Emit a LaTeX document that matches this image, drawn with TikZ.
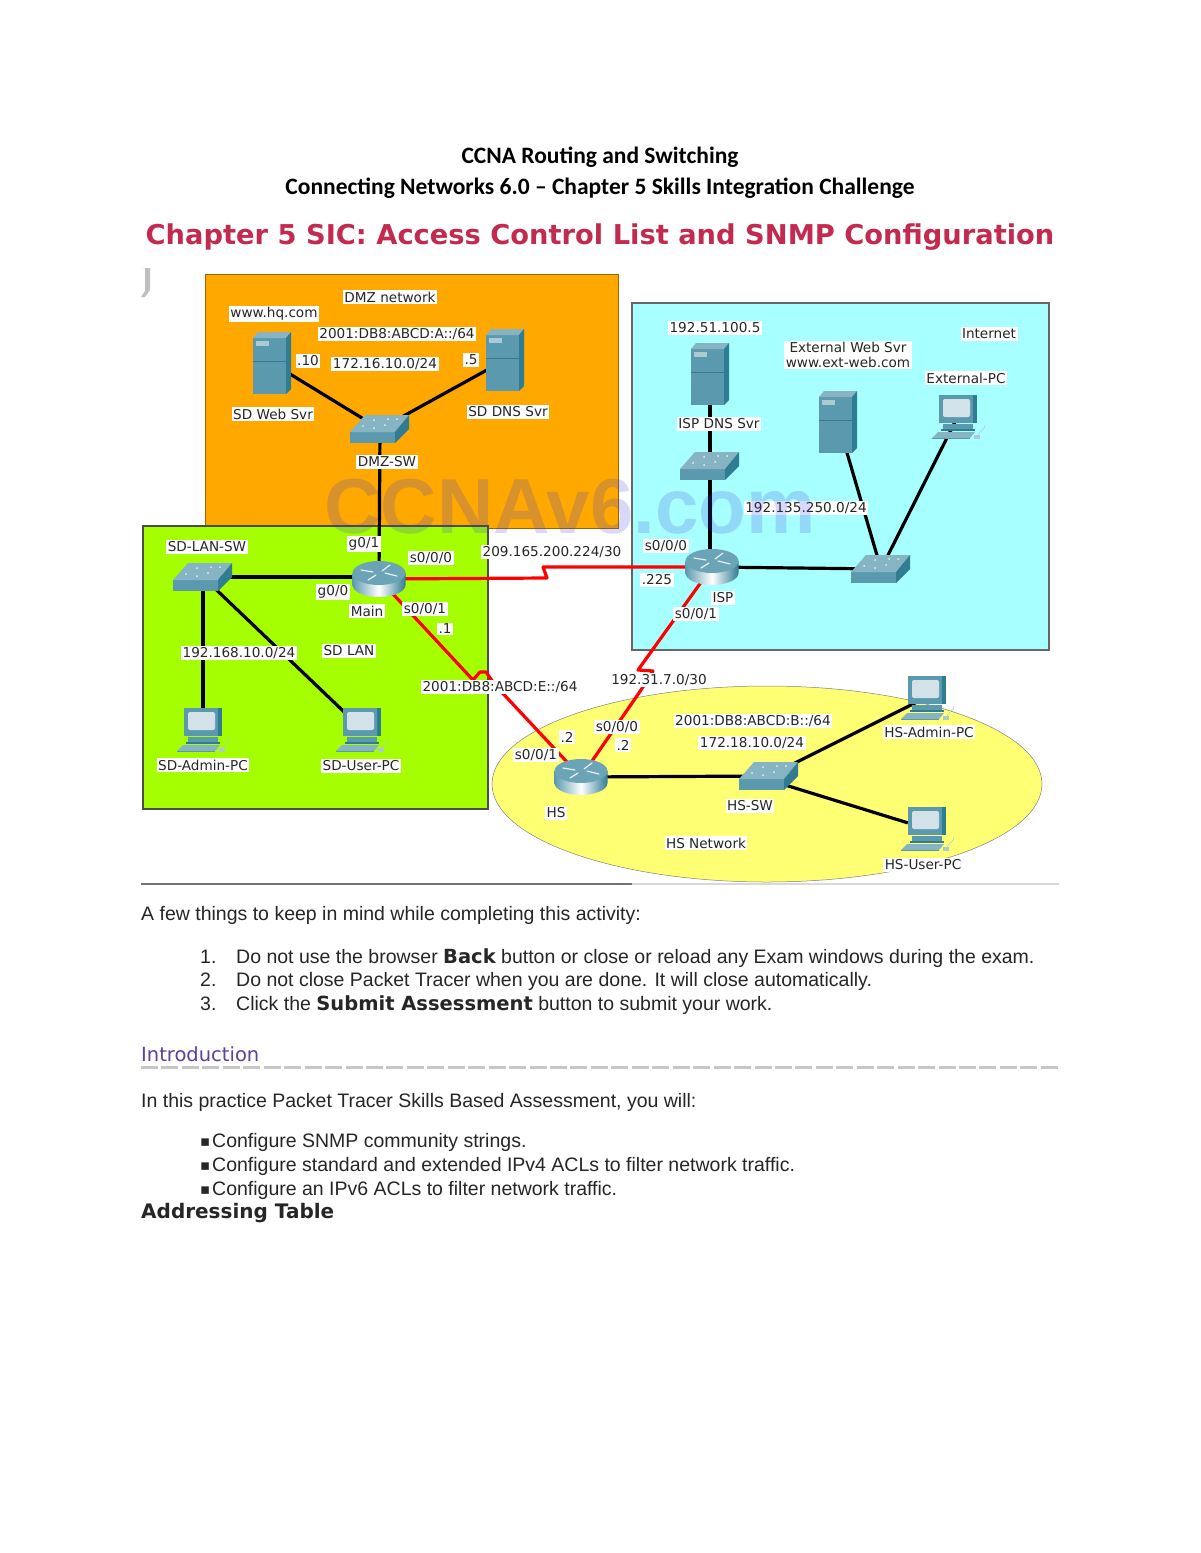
\documentclass[tikz,border=0pt]{standalone}
\usepackage{fontspec}
\setmainfont{Liberation Sans}
\newfontfamily\calibrifont{Carlito}
\newfontfamily\verdanafont{DejaVu Sans}
\usepackage{tikz}

\definecolor{tealfront}{HTML}{5B9AAE}
\definecolor{tealside}{HTML}{2F7C93}
\definecolor{tealtop}{HTML}{86B4C2}
\definecolor{screen}{HTML}{D3E2E8}
\definecolor{orangenet}{HTML}{FFA800}
\definecolor{greennet}{HTML}{A6FF00}
\definecolor{cyannet}{HTML}{A8FFFF}
\definecolor{yellownet}{HTML}{FFFF73}
\definecolor{titlered}{HTML}{C22A50}
\definecolor{intropurple}{HTML}{5F3F9F}
\definecolor{markblue}{RGB}{60,60,220}

\pgfdeclarelayer{nets}
\pgfdeclarelayer{wires}
\pgfsetlayers{nets,wires,main}

\tikzset{
	pics/server/.style={code={
		\node[minimum width=37pt,minimum height=62pt,inner sep=0pt] (box) {};
		\fill[tealfront] (-19,-25) rectangle (14,31);
		\fill[tealtop] (-19,-25) -- (-14,-31) -- (19,-31) -- (14,-25) -- cycle;
		\fill[tealside] (14,-25) -- (19,-31) -- (19,26) -- (14,31) -- cycle;
		\fill[tealtop!70!white] (-16,-22) rectangle (-3,-17);
		\draw[tealside,line width=0.4pt] (-19,-2) -- (14,-2);
	}},
	pics/switch/.style={code={
		\node[minimum width=59pt,minimum height=28pt,inner sep=0pt] (box) {};
		\fill[tealfront] (-30,3) rectangle (15,14);
		\fill[tealtop] (-30,3) -- (-15,-14) -- (29,-14) -- (15,3) -- cycle;
		\fill[tealside] (15,3) -- (29,-14) -- (29,0) -- (15,14) -- cycle;
		\foreach \px/\py in {-17/-3,-6/-9,8/-10,-6/-1,5/-4,17/-10}
			\fill[white!80!tealtop] (\px,\py) circle (1);
	}},
	pics/router/.style={code={
		\node[minimum width=53pt,minimum height=36pt,inner sep=0pt] (box) {};
		\shade[left color=tealfront,right color=tealside,middle color=white] (-26.5,-6) -- (-26.5,6) arc[start angle=180,end angle=360,x radius=26.5,y radius=-12] -- (26.5,-6) -- cycle;
		\fill[tealfront!90!white] (0,-6) ellipse (26.5 and 12);
		\draw[white!85!tealfront,line width=1.2pt,line cap=round] (-18,-9) -- (-6,-7) (18,-3) -- (6,-6) (-11,1) -- (-3,-4) (11,-14) -- (3,-8);
	}},
	pics/pc/.style={code={
		\node[minimum width=38pt,minimum height=42pt,inner sep=0pt] (box) {};
		\fill[tealside] (-19,-21) rectangle (19,7);
		\fill[tealfront] (-19,-21) rectangle (15,7);
		\fill[screen,rounded corners=2pt] (-15,-17) rectangle (12,1);
		\fill[tealfront] (-15,8) rectangle (15,13);
		\fill[tealside] (-17,13) rectangle (17,15);
		\fill[tealtop] (-26,22) -- (-20,16) -- (17,16) -- (12,22) -- cycle;
		\fill[tealfront] (-26,22) rectangle (12,23);
		\fill[tealtop!70!white] (16,19) rectangle (22,23);
		\draw[tealtop!70!white,line width=0.5pt] (20,19) .. controls (22,14) and (27,14) .. (27,9);
	}},
	netlabel/.style={fill=white,inner sep=1.5pt,font=\verdanafont\fontsize{13.6}{15.2}\selectfont,text=black!85},
	lan line/.style={line width=3.2pt,black},
	serial line/.style={line width=3.2pt,red,line join=round}
}

\begin{document}
\begin{tikzpicture}[x=1pt,y=-1pt,body text/.style={inner sep=0pt,anchor=base west,font=\fontsize{19.5}{22}\selectfont,text=black!85}]
		
		\useasboundingbox (0,0) rectangle (1200,1553);
		
		\node[font=\calibrifont\bfseries\fontsize{23.5}{26}\selectfont] (head1) at (600,157) {CCNA Routing and Switching};
		\node[font=\calibrifont\bfseries\fontsize{23.5}{26}\selectfont] (head2) at (600,188) {Connecting Networks 6.0 – Chapter 5 Skills Integration Challenge};
		\node[font=\verdanafont\bfseries\fontsize{27.3}{32}\selectfont,text=titlered] (head3) at (600,237) {Chapter 5 SIC: Access Control List and SNMP Configuration};
		
		\fill[black!25] (142,268) -- (150,268) -- (150,290) -- (145,297) -- (141,297) -- (145,291) -- (145,268) -- cycle;
		
		\begin{pgfonlayer}{nets}
		\fill[white] (0,0) rectangle (1200,1553);
		\draw[orangenet!60!black,fill=orangenet,line width=1pt] (205,274) rectangle (618,528);
		\draw[black!60,fill=cyannet,line width=1.2pt] (632,303) rectangle (1049,650);
		\draw[black!70,fill=greennet,line width=1.2pt] (143,526) rectangle (488,809);
		\draw[black!50,fill=yellownet,line width=0.5pt] (767,784) ellipse (275 and 98);
		\end{pgfonlayer}
		
		\pic (web) at (272,363) {server};
		\pic (dns) at (505,360) {server};
		\pic (ispdns) at (710,374) {server};
		\pic (extweb) at (838,422) {server};
		\pic (dmzsw) at (380,429) {switch};
		\pic (lansw) at (203,577) {switch};
		\pic (ispsw) at (710,466) {switch};
		\pic (extsw) at (881,569) {switch};
		\pic (hssw) at (769,776) {switch};
		\pic (main) at (379,579) {router};
		\pic (isp) at (712,567) {router};
		\pic (hs) at (581,777) {router};
		\pic (lanadmin) at (203,729) {pc};
		\pic (lanuser) at (362,729) {pc};
		\pic (extpc) at (958,416) {pc};
		\pic (hsadmin) at (927,697) {pc};
		\pic (hsuser) at (927,828) {pc};
		
		\begin{pgfonlayer}{wires}
		\draw[lan line] (webbox.center) -- (dmzswbox.center);
		\draw[lan line] (dnsbox.center) -- (dmzswbox.center);
		\draw[lan line] (dmzswbox.center) -- (mainbox.center);
		\draw[lan line] (lanswbox.center) -- (lanswbox.center -| mainbox.center);
		\draw[lan line] (lanswbox.center) -- (lanadminbox.center);
		\draw[lan line] (lanswbox.center) -- (lanuserbox.center);
		\draw[lan line] (ispdnsbox.center) -- (ispswbox.center);
		\draw[lan line] (ispswbox.center) -- (ispswbox.center |- ispbox.center);
		\draw[lan line] (ispbox.center) -- (extswbox.center);
		\draw[lan line] (extwebbox.center) -- (extswbox.center);
		\draw[lan line] (extpcbox.center) -- (extswbox.center);
		\draw[lan line] (hsbox.center) -- (hsswbox.center);
		\draw[lan line] (hsswbox.center) -- (hsadminbox.center);
		\draw[lan line] ([yshift=-4pt]hsswbox.center) -- (hsuserbox.165);
		
		\draw[serial line] (mainbox.center) -- (547,578) -- (543,567) -- (ispbox.center);
		\draw[serial line] (mainbox.center) -- (473,680) -- (480,672) -- (486,672) -- (495,685) -- (hsbox.center);
		\draw[serial line] (ispbox.center) -- (638,670) -- (653,671) -- (641,690) -- (hsbox.center);
		\end{pgfonlayer}
		
		\node[netlabel] (l1) at (390,297) {DMZ network};
		\node[netlabel] (l2) at (274,314) {www.hq.com};
		\node[netlabel] (l3) at (397,334) {2001:DB8:ABCD:A::/64};
		\node[netlabel] (l4) at (385,364) {172.16.10.0/24};
		\node[netlabel] (l5) at (308,361) {.10};
		\node[netlabel] (l6) at (471,360) {.5};
		\node[netlabel] (l7) at (273,414) {SD Web Svr};
		\node[netlabel] (l8) at (508,412) {SD DNS Svr};
		\node[netlabel] (l9) at (387,462) {DMZ-SW};
		\node[netlabel] (l10) at (715,328) {192.51.100.5};
		\node[netlabel,align=center] (l11) at (848,355) {External Web Svr\\www.ext-web.com};
		\node[netlabel] (l12) at (989,334) {Internet};
		\node[netlabel] (l13) at (966,378) {External-PC};
		\node[netlabel] (l14) at (719,424) {ISP DNS Svr};
		\node[netlabel] (l15) at (806,508) {192.135.250.0/24};
		\node[netlabel] (l16) at (666,546) {s0/0/0};
		\node[netlabel] (l17) at (657,580) {.225};
		\node[netlabel] (l18) at (723,598) {ISP};
		\node[netlabel] (l19) at (696,614) {s0/0/1};
		\node[netlabel] (l20) at (207,547) {SD-LAN-SW};
		\node[netlabel] (l21) at (364,544) {g0/1};
		\node[netlabel] (l22) at (431,558) {s0/0/0};
		\node[netlabel] (l23) at (552,552) {209.165.200.224/30};
		\node[netlabel] (l24) at (333,592) {g0/0};
		\node[netlabel] (l25) at (367,611) {Main};
		\node[netlabel] (l26) at (425,609) {s0/0/1};
		\node[netlabel] (l27) at (445,629) {.1};
		\node[netlabel] (l28) at (349,651) {SD LAN};
		\node[netlabel] (l29) at (239,653) {192.168.10.0/24};
		\node[netlabel] (l30) at (500,687) {2001:DB8:ABCD:E::/64};
		\node[netlabel] (l31) at (203,765) {SD-Admin-PC};
		\node[netlabel] (l32) at (361,766) {SD-User-PC};
		\node[netlabel] (l33) at (659,680) {192.31.7.0/30};
		\node[netlabel] (l34) at (617,727) {s0/0/0};
		\node[netlabel] (l35) at (623,745) {.2};
		\node[netlabel] (l36) at (567,737) {.2};
		\node[netlabel] (l37) at (536,755) {s0/0/1};
		\node[netlabel] (l38) at (753,721) {2001:DB8:ABCD:B::/64};
		\node[netlabel] (l39) at (752,743) {172.18.10.0/24};
		\node[netlabel] (l40) at (556,813) {HS};
		\node[netlabel] (l41) at (750,806) {HS-SW};
		\node[netlabel] (l42) at (706,843) {HS Network};
		\node[netlabel] (l43) at (929,732) {HS-Admin-PC};
		\node[netlabel] (l44) at (923,865) {HS-User-PC};
		
		\node[font=\bfseries\fontsize{78}{86}\selectfont,text=markblue,opacity=0.2] (mark) at (570,507) {CCNAv6.com};
		
		\draw[black!55,line width=1.2pt] (141,884) -- (632,884);
		\draw[black!15,line width=1.2pt] (632,884) -- (1059,884);
		\draw[black!22,line width=3pt,dash pattern=on 17pt off 3.45pt] (141,1067) -- (1059,1067);
		
		\node[body text] (t1) at (141,920) {A few things to keep in mind while completing this activity:};
		\node[body text] (n1) at (200,963) {1.};
		\node[body text] (t2) at (236,963) {Do not use the browser {\verdanafont\bfseries Back} button or close or reload any Exam windows during the exam.};
		\node[body text] (n2) at (200,986) {2.};
		\node[body text] (t3) at (236,986) {Do not close Packet Tracer when you are done. It will close automatically.};
		\node[body text] (n3) at (200,1010) {3.};
		\node[body text] (t4) at (236,1010) {Click the {\verdanafont\bfseries Submit Assessment} button to submit your work.};
		\node[body text,font=\verdanafont\fontsize{19.5}{22}\selectfont,text=intropurple] (t5) at (141,1061) {Introduction};
		\node[body text] (t6) at (141,1107) {In this practice Packet Tracer Skills Based Assessment, you will:};
		\foreach \ly/\ltext in {1147/Configure SNMP community strings.,1171/Configure standard and extended IPv4 ACLs to filter network traffic.,1195/Configure an IPv6 ACLs to filter network traffic.}{
			\node[body text,font=\verdanafont\fontsize{15}{17}\selectfont] (b\ly) at (200,\ly-1) {▪};
			\node[body text] (t\ly) at (212,\ly) {\ltext};
		}
		\node[body text,font=\verdanafont\bfseries\fontsize{20}{24}\selectfont] (t10) at (141,1218) {Addressing Table};
		
\end{tikzpicture}
\end{document}
